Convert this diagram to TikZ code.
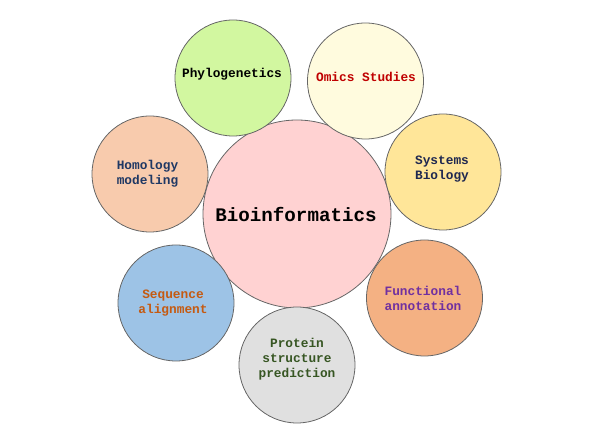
\documentclass[tikz,border=0pt]{standalone}
\usepackage{fontspec}
\setmonofont{Liberation Mono}
\begin{document}
\begin{tikzpicture}[x=1pt,y=-1pt,
  bubble/.style={circle,draw=black!60,line width=0.8pt,inner sep=0pt},
  small/.style={bubble,minimum size=116pt},
  lbl/.style={font=\ttfamily\bfseries\fontsize{12.8}{15.2}\selectfont,align=center,inner sep=0pt}]
\useasboundingbox (0,0) rectangle (595,430);
\node[bubble,minimum size=188pt,fill={rgb,255:red,255;green,210;blue,210}] (bio) at (297,214) {};
\node[font=\ttfamily\bfseries\fontsize{19.2}{22}\selectfont,inner sep=0pt] (biot) at (296,214) {Bioinformatics};
\node[small,fill={rgb,255:red,210;green,247;blue,160}] (phy) at (233,78) {};
\node[lbl] (phyt) at (232,74) {Phylogenetics};
\node[small,fill={rgb,255:red,255;green,251;blue,222}] (omi) at (365.5,81) {};
\node[lbl,text={rgb,255:red,192;green,0;blue,0}] (omit) at (366,77) {Omics Studies};
\node[small,fill={rgb,255:red,255;green,230;blue,153}] (sys) at (443,172) {};
\node[lbl,text={rgb,255:red,31;green,40;blue,80}] (syst) at (442,169) {Systems\\Biology};
\node[small,fill={rgb,255:red,244;green,177;blue,131}] (fun) at (424.5,298) {};
\node[lbl,text={rgb,255:red,112;green,48;blue,160}] (funt) at (423,298.5) {Functional\\annotation};
\node[small,fill={rgb,255:red,224;green,224;blue,224}] (pro) at (297,365) {};
\node[lbl,text={rgb,255:red,55;green,86;blue,35}] (prot) at (297,359) {Protein\\structure\\prediction};
\node[small,fill={rgb,255:red,157;green,195;blue,230}] (seq) at (176,303) {};
\node[lbl,text={rgb,255:red,197;green,90;blue,17}] (seqt) at (173,303) {Sequence\\alignment};
\node[small,fill={rgb,255:red,248;green,203;blue,173}] (hom) at (150,174) {};
\node[lbl,text={rgb,255:red,31;green,56;blue,100}] (homt) at (147.5,174) {Homology\\modeling};
\end{tikzpicture}
\end{document}
